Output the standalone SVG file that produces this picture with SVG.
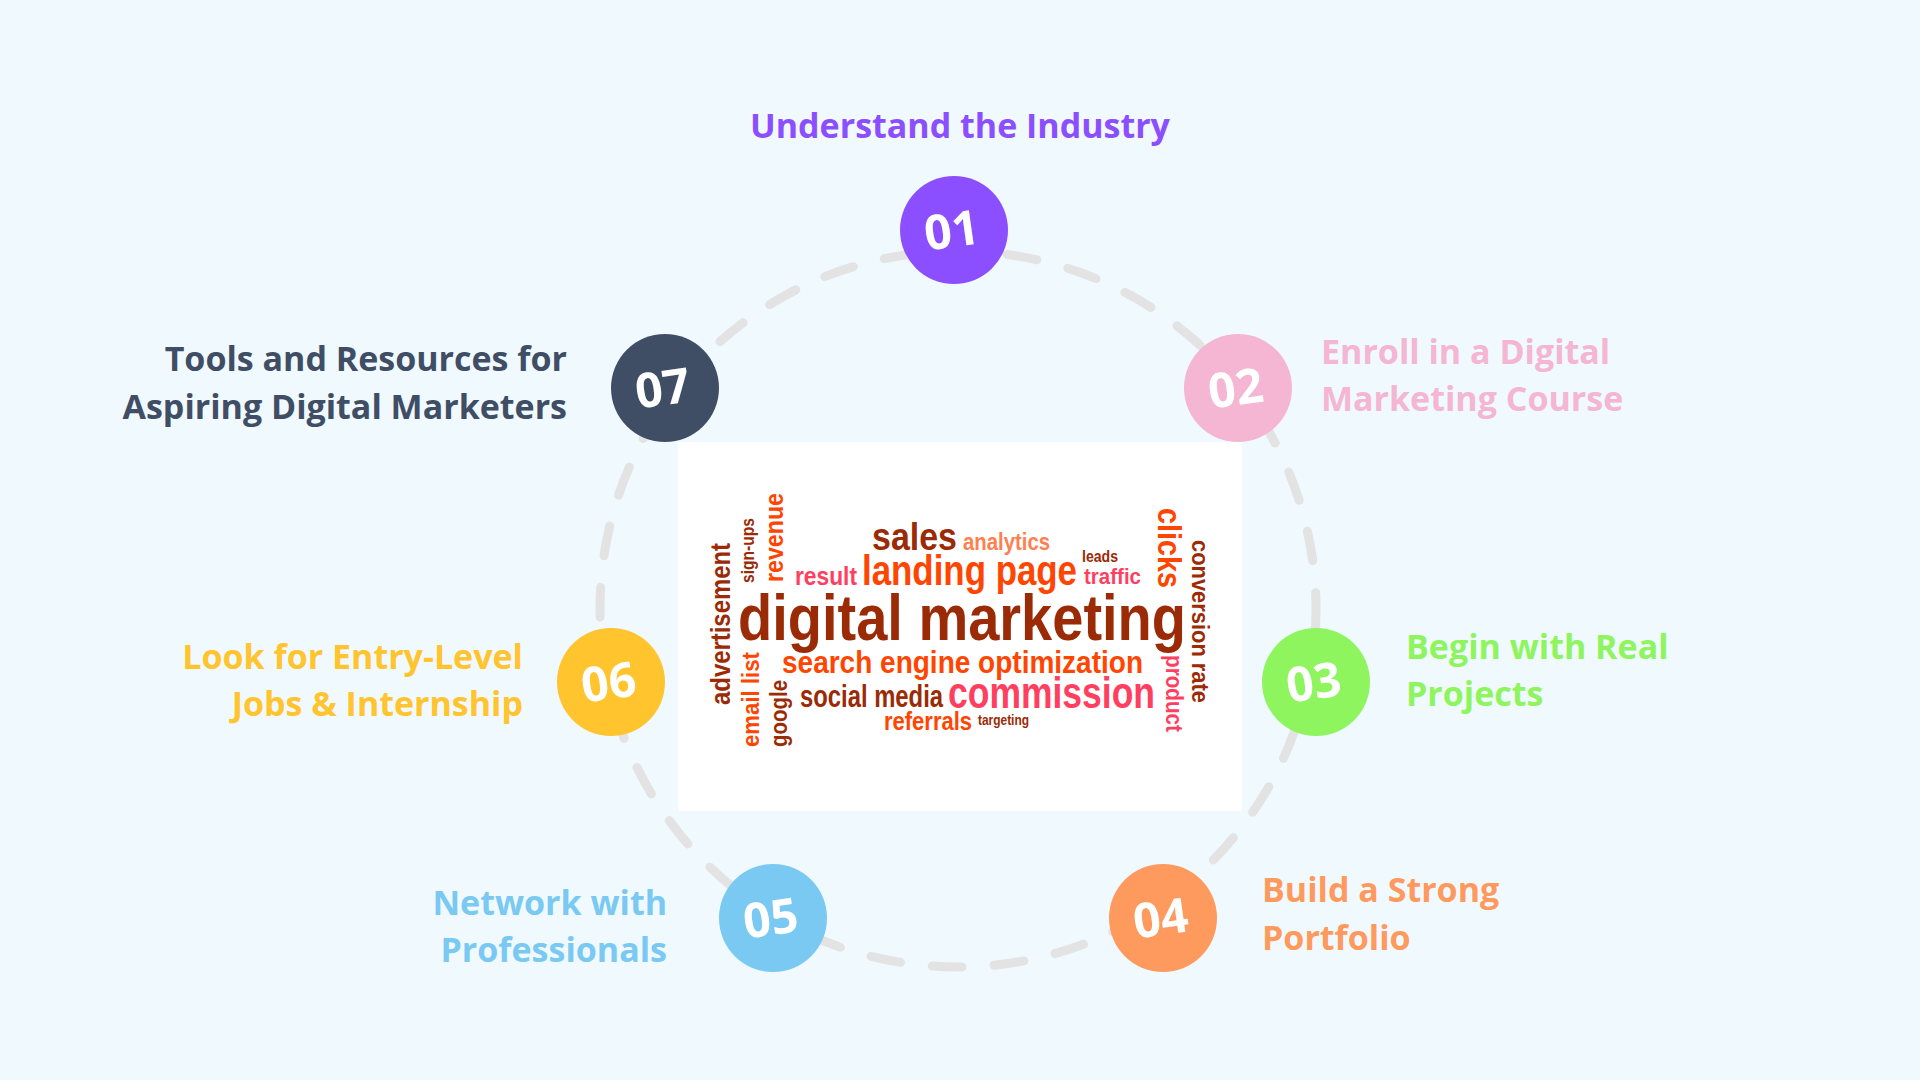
<svg xmlns="http://www.w3.org/2000/svg" width="1920" height="1080" viewBox="0 0 1920 1080">
<style>
.lbl{font-family:"Open Sans","Noto Sans",sans-serif;font-weight:700;font-size:34px}
.num{font-family:"Open Sans","Noto Sans",sans-serif;font-weight:700;font-size:48px;fill:#fff;text-anchor:middle}
.w{font-family:"Liberation Sans",Arial,sans-serif;font-weight:700}
.dk{fill:#9b2a06}.or{fill:#ff4500}.pk{fill:#ff3f5f}.lo{fill:#ff7f50}
</style>
<rect width="1920" height="1080" fill="#f0f9fe"/>
<g id="connectors">
<circle cx="958" cy="609" r="358" fill="none" stroke="#e3e3e3" stroke-width="9" stroke-linecap="round" stroke-dasharray="30 32"/>
</g>
<g id="wordcloud">
<rect x="678" y="442" width="564" height="369" fill="#fff"/>
<text class="w dk" x="738" y="640" font-size="64" textLength="448" lengthAdjust="spacingAndGlyphs">digital marketing</text>
<text class="w or" x="862" y="585" font-size="42" textLength="215" lengthAdjust="spacingAndGlyphs">landing page</text>
<text class="w dk" x="872" y="550" font-size="38" textLength="85" lengthAdjust="spacingAndGlyphs">sales</text>
<text class="w lo" x="963" y="550" font-size="24" textLength="87" lengthAdjust="spacingAndGlyphs">analytics</text>
<text class="w pk" x="795" y="585" font-size="26" textLength="62" lengthAdjust="spacingAndGlyphs">result</text>
<text class="w dk" x="1082" y="562" font-size="16" textLength="36" lengthAdjust="spacingAndGlyphs">leads</text>
<text class="w pk" x="1084" y="584" font-size="22" textLength="57" lengthAdjust="spacingAndGlyphs">traffic</text>
<text class="w or" x="782" y="673" font-size="32" textLength="361" lengthAdjust="spacingAndGlyphs">search engine optimization</text>
<text class="w dk" x="800" y="707" font-size="31" textLength="143" lengthAdjust="spacingAndGlyphs">social media</text>
<text class="w pk" x="948" y="708" font-size="44" textLength="207" lengthAdjust="spacingAndGlyphs">commission</text>
<text class="w or" x="884" y="730" font-size="26" textLength="88" lengthAdjust="spacingAndGlyphs">referrals</text>
<text class="w dk" x="978" y="725" font-size="14" textLength="51" lengthAdjust="spacingAndGlyphs">targeting</text>
<text class="w dk" font-size="27" textLength="162" lengthAdjust="spacingAndGlyphs" transform="translate(730,705) rotate(-90)">advertisement</text>
<text class="w dk" font-size="18" textLength="65" lengthAdjust="spacingAndGlyphs" transform="translate(754,583) rotate(-90)">sign-ups</text>
<text class="w or" font-size="26" textLength="89" lengthAdjust="spacingAndGlyphs" transform="translate(783,582) rotate(-90)">revenue</text>
<text class="w or" font-size="24" textLength="95" lengthAdjust="spacingAndGlyphs" transform="translate(759,747) rotate(-90)">email list</text>
<text class="w dk" font-size="24" textLength="67" lengthAdjust="spacingAndGlyphs" transform="translate(787,747) rotate(-90)">google</text>
<text class="w or" font-size="34" textLength="80" lengthAdjust="spacingAndGlyphs" transform="translate(1158,508) rotate(90)">clicks</text>
<text class="w dk" font-size="24" textLength="163" lengthAdjust="spacingAndGlyphs" transform="translate(1192,540) rotate(90)">conversion rate</text>
<text class="w pk" font-size="24" textLength="77" lengthAdjust="spacingAndGlyphs" transform="translate(1166,655) rotate(90)">product</text>
</g>
<g id="n01"><circle cx="954" cy="230" r="54" fill="#8c4fff"/><text class="num" transform="translate(954,247) rotate(-8)">01</text>
<text class="lbl" x="960" y="138" fill="#8c4fff" text-anchor="middle">Understand the Industry</text></g>
<g id="n02"><circle cx="1238" cy="388" r="54" fill="#f4b6d2"/><text class="num" transform="translate(1238,405) rotate(-8)">02</text>
<text class="lbl" fill="#f4b6d2"><tspan x="1321" y="364">Enroll in a Digital</tspan><tspan x="1321" y="411">Marketing Course</tspan></text></g>
<g id="n03"><circle cx="1316" cy="682" r="54" fill="#8ef55e"/><text class="num" transform="translate(1316,699) rotate(-8)">03</text>
<text class="lbl" fill="#8ef55e"><tspan x="1406" y="659">Begin with Real</tspan><tspan x="1406" y="706">Projects</tspan></text></g>
<g id="n04"><circle cx="1163" cy="918" r="54" fill="#ff9a5e"/><text class="num" transform="translate(1163,935) rotate(-8)">04</text>
<text class="lbl" fill="#ff9a5e"><tspan x="1262" y="902">Build a Strong</tspan><tspan x="1262" y="950">Portfolio</tspan></text></g>
<g id="n05"><circle cx="773" cy="918" r="54" fill="#79c9f2"/><text class="num" transform="translate(773,935) rotate(-8)">05</text>
<text class="lbl" fill="#79c9f2" text-anchor="end"><tspan x="667" y="915">Network with</tspan><tspan x="667" y="962">Professionals</tspan></text></g>
<g id="n06"><circle cx="611" cy="682" r="54" fill="#ffc42e"/><text class="num" transform="translate(611,699) rotate(-8)">06</text>
<text class="lbl" fill="#ffc42e" text-anchor="end"><tspan x="523" y="669">Look for Entry-Level</tspan><tspan x="523" y="716">Jobs &amp; Internship</tspan></text></g>
<g id="n07"><circle cx="665" cy="388" r="54" fill="#404e65"/><text class="num" transform="translate(665,405) rotate(-8)">07</text>
<text class="lbl" fill="#404e65" text-anchor="end"><tspan x="567" y="371">Tools and Resources for</tspan><tspan x="567" y="419">Aspiring Digital Marketers</tspan></text></g>
</svg>
